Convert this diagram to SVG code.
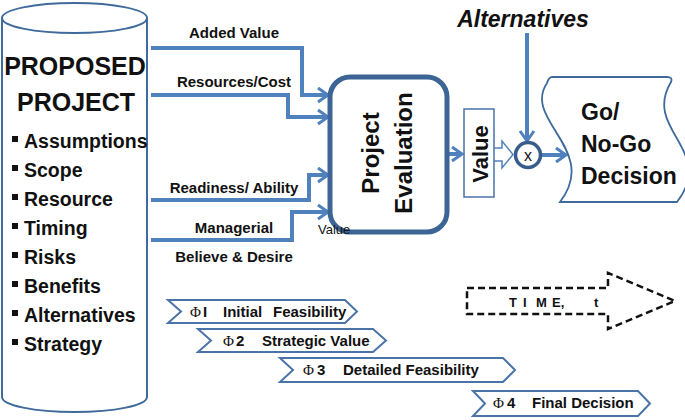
<svg xmlns="http://www.w3.org/2000/svg" width="685" height="420" viewBox="0 0 685 420">
  <style>
    .t { font-family: "Liberation Sans", Arial, sans-serif; fill: #111; }
    .b { font-weight: bold; }
    .conn { fill: none; stroke: #4f81bd; stroke-width: 4; }
    .phase { fill: #fff; stroke: #4a73a8; stroke-width: 2; }
    .phi { font-family: "Liberation Serif", serif; font-weight: normal; }
  </style>
  <defs>
    <marker id="chev" markerUnits="userSpaceOnUse" markerWidth="16" markerHeight="18" viewBox="0 0 16 18" refX="13" refY="9" orient="auto">
      <path d="M3,2 L13,9 L3,16" fill="none" stroke="#4f81bd" stroke-width="3"/>
    </marker>
  </defs>
  <rect width="685" height="420" fill="#fff"/>

  <g id="proposed-project">
    <path d="M2,18 V397 A72.5,15 0 0 0 147,397 V18" fill="#fff" stroke="#3f6a9c" stroke-width="2"/>
    <ellipse cx="74.5" cy="18" rx="72.5" ry="15" fill="#fff" stroke="#3f6a9c" stroke-width="2"/>
    <text class="t b" x="75" y="75" font-size="25" text-anchor="middle">PROPOSED</text>
    <text class="t b" x="76" y="111" font-size="25" text-anchor="middle">PROJECT</text>
    <g fill="#111">
      <rect x="12" y="136" width="6" height="6"/>
      <rect x="12" y="165" width="6" height="6"/>
      <rect x="12" y="194" width="6" height="6"/>
      <rect x="12" y="223" width="6" height="6"/>
      <rect x="12" y="252" width="6" height="6"/>
      <rect x="12" y="281" width="6" height="6"/>
      <rect x="12" y="310" width="6" height="6"/>
      <rect x="12" y="339" width="6" height="6"/>
    </g>
    <g class="t b" font-size="19.5">
      <text x="24" y="148">Assumptions</text>
      <text x="24" y="177">Scope</text>
      <text x="24" y="206">Resource</text>
      <text x="24" y="235">Timing</text>
      <text x="24" y="264">Risks</text>
      <text x="24" y="293">Benefits</text>
      <text x="24" y="322">Alternatives</text>
      <text x="24" y="351">Strategy</text>
    </g>
  </g>

  <g id="connectors">
    <path class="conn" d="M151,48 H302 V95 H328" marker-end="url(#chev)"/>
    <path class="conn" d="M151,95 H288 V117 H328" marker-end="url(#chev)"/>
    <path class="conn" d="M151,200 H309 V175 H328" marker-end="url(#chev)"/>
    <path class="conn" d="M151,240 H292 V212 H328" marker-end="url(#chev)"/>
    <path class="conn" d="M447,154 H462" marker-end="url(#chev)"/>
    <path class="conn" d="M527,33 V141" marker-end="url(#chev)"/>
    <path class="conn" d="M541,155 H566" marker-end="url(#chev)"/>
    <path d="M494,148 H502 V141 L513,154.5 L502,168 V161 H494" fill="#fff" stroke="#4f81bd" stroke-width="1.5"/>
    <g class="t b" font-size="15" text-anchor="middle">
      <text x="234" y="38">Added Value</text>
      <text x="234" y="87">Resources/Cost</text>
      <text x="234" y="193">Readiness/ Ability</text>
      <text x="234" y="233">Managerial</text>
      <text x="234" y="262">Believe &amp; Desire</text>
    </g>
    <text class="t b" x="523" y="27" font-size="23" font-style="italic" text-anchor="middle">Alternatives</text>
  </g>

  <g id="project-evaluation">
    <rect x="330" y="77" width="117" height="155" rx="20" fill="#fff" stroke="#3c6494" stroke-width="5"/>
    <text class="t b" font-size="24" text-anchor="middle" transform="translate(379,153) rotate(-90)">Project</text>
    <text class="t b" font-size="24" text-anchor="middle" transform="translate(412,153) rotate(-90)">Evaluation</text>
  </g>
  <text class="t" x="318" y="234" font-size="13" fill="#333">Value</text>

  <g id="value">
    <rect x="464" y="109" width="30" height="88" fill="#fff" stroke="#4a73a8" stroke-width="1.5"/>
    <text class="t b" font-size="22" text-anchor="middle" transform="translate(488,154) rotate(-90)">Value</text>
  </g>

  <g id="multiply">
    <circle cx="528" cy="155" r="12.5" fill="#fff" stroke="#385d8a" stroke-width="3.5"/>
    <text class="t" x="528" y="161" font-size="16" text-anchor="middle">x</text>
  </g>

  <g id="decision">
    <path d="M552,77 H667 Q673,77 671,82 C642,130 717,150 677,202 H560 C600,150 522,120 547,83 Q549,77 552,77 Z" fill="#fff" stroke="#3f6a9c" stroke-width="1.8"/>
    <g class="t b" font-size="23">
      <text x="581" y="120">Go/</text>
      <text x="581" y="152">No-Go</text>
      <text x="581" y="184">Decision</text>
    </g>
  </g>

  <g id="phase1">
    <polygon class="phase" points="168,300 345,300 357,311.5 345,323 168,323 181,311.5"/>
    <text class="t b" y="317" font-size="15"><tspan class="phi" x="190">Φ</tspan><tspan x="203">I</tspan><tspan x="223">Initial</tspan><tspan x="273">Feasibility</tspan></text>
  </g>
  <g id="phase2">
    <polygon class="phase" points="198,329 373,329 386,340.5 373,352 198,352 211,340.5"/>
    <text class="t b" y="346" font-size="15"><tspan class="phi" x="223">Φ</tspan><tspan x="236">2</tspan><tspan x="262">Strategic Value</tspan></text>
  </g>
  <g id="phase3">
    <polygon class="phase" points="280,358 503,358 515,370 503,382 280,382 293,370"/>
    <text class="t b" y="375" font-size="15"><tspan class="phi" x="303">Φ</tspan><tspan x="317">3</tspan><tspan x="343">Detailed Feasibility</tspan></text>
  </g>
  <g id="phase4">
    <polygon class="phase" points="473,391 638,391 650,403.5 638,416 473,416 485,403.5"/>
    <text class="t b" y="408" font-size="15"><tspan class="phi" x="493">Φ</tspan><tspan x="507">4</tspan><tspan x="532">Final Decision</tspan></text>
  </g>

  <g id="time">
    <path d="M467,288 H608 V273 L675,301 L608,329 V314 H467 Z" fill="none" stroke="#111" stroke-width="2.5" stroke-dasharray="7 4"/>
    <text class="t b" y="307" font-size="13"><tspan x="509">T</tspan><tspan x="523">I</tspan><tspan x="536">M</tspan><tspan x="552">E,</tspan><tspan x="594">t</tspan></text>
  </g>
</svg>
